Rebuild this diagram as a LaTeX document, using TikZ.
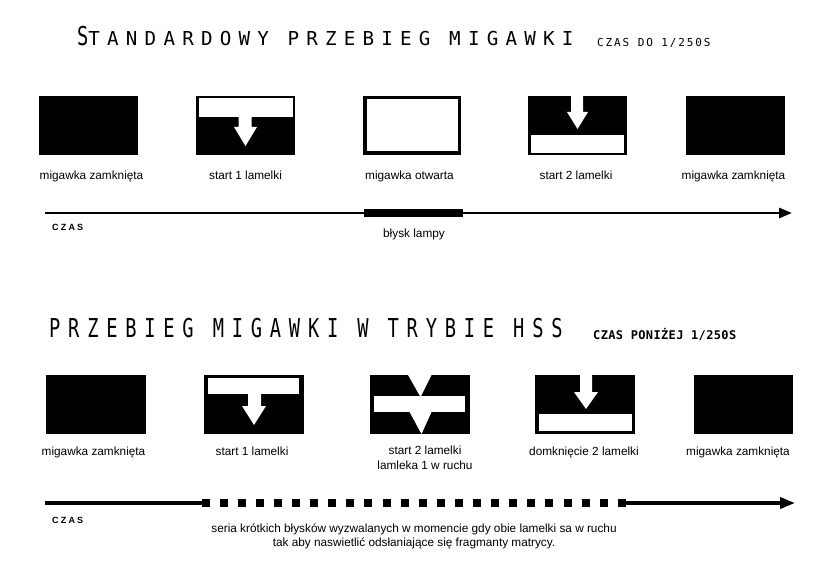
\documentclass[tikz,border=0pt]{standalone}
\usepackage{fontspec}
\setmainfont{Liberation Sans}
\newfontfamily\titlefont{DejaVu Sans Mono}
\newfontfamily\titlecond[FakeStretch=0.72]{DejaVu Sans Mono}
\usetikzlibrary{arrows.meta}
\tikzset{
  blk/.style={fill=black, draw=none, inner sep=0pt, minimum width=99pt, minimum height=59pt},
  openbox/.style={fill=white, draw=black, line width=3.5pt, inner sep=0pt, minimum width=94.5pt, minimum height=55.5pt},
  wht/.style={fill=white, draw=none},
  lbl/.style={font=\fontsize{11.8}{14.5}\selectfont, inner sep=0pt, anchor=base, align=center},
  czas/.style={font=\fontsize{9}{9}\selectfont\bfseries\addfontfeature{LetterSpace=24}, inner sep=0pt, anchor=base west},
  ttl/.style={inner sep=0pt, anchor=base west},
}
\begin{document}
\begin{tikzpicture}[x=1pt, y=-1pt]
\useasboundingbox (0,0) rectangle (818,585);
\fill[white] (0,0) rectangle (818,585);

% ---------- titles ----------
\node[ttl] (title1) at (77,46) {\titlecond\fontsize{26}{26}\selectfont\addfontfeature{LetterSpace=18}S\titlefont\fontsize{19.2}{19.2}\selectfont\addfontfeature{LetterSpace=37.5}TANDARDOWY PRZEBIEG MIGAWKI};
\node[ttl] (sub1) at (597,47) {\titlefont\fontsize{11}{11}\selectfont\addfontfeature{LetterSpace=17}CZAS DO 1/250S};

\node[ttl] (title2) at (49,337) {\titlecond\fontsize{26}{26}\selectfont\addfontfeature{LetterSpace=29.9}PRZEBIEG MIGAWKI W TRYBIE HSS};
\node[ttl] (sub2) at (593,339) {\titlefont\bfseries\fontsize{12}{12}\selectfont\addfontfeature{LetterSpace=3}CZAS PONIŻEJ 1/250S};

% ---------- row 1 boxes ----------
\node[blk] (a1) at (88.5,125.5) {};
\node[blk] (a2) at (245.5,125.5) {};
\node[openbox] (a3) at (412,125.5) {};
\node[blk] (a4) at (577.5,125.5) {};
\node[blk] (a5) at (735.5,125.5) {};

\fill[wht] (199,98) rectangle (293,117);
\fill[wht] (238.5,116) -- (251.5,116) -- (251.5,127) -- (257,127) -- (245.5,146) -- (234,127) -- (238.5,127) -- cycle;

\fill[wht] (531,135) rectangle (624,153);
\fill[wht] (571,96) -- (583,96) -- (583,112) -- (588,112) -- (577.5,129) -- (567,112) -- (571,112) -- cycle;

% ---------- row 1 labels ----------
\node[lbl] (la1) at (91.5,180) {migawka zamknięta};
\node[lbl] (la2) at (245.5,180) {start 1 lamelki};
\node[lbl] (la3) at (409.5,180) {migawka otwarta};
\node[lbl] (la4) at (576,180) {start 2 lamelki};
\node[lbl] (la5) at (733.5,180) {migawka zamknięta};

% ---------- row 1 timeline ----------
\coordinate (t1s) at (45,213);
\coordinate (t1e) at (792,213);
\draw[line width=2.7pt, -{Triangle[length=13pt,width=10pt]}] (t1s) -- (t1e);
\node[fill=black, inner sep=0pt, minimum width=99pt, minimum height=8pt] (flash) at (413.5,212.7) {};
\node[czas] (cz1) at (52,230.5) {CZAS};
\node[lbl] (fl) at (414,237) {błysk lampy};

% ---------- row 2 boxes ----------
\node[blk, minimum width=100pt] (b1) at (96,404.5) {};
\node[blk, minimum width=100pt] (b2) at (254,404.5) {};
\node[blk, minimum width=100pt] (b3) at (420,404.5) {};
\node[blk, minimum width=100pt] (b4) at (585,404.5) {};
\node[blk] (b5) at (743.5,404.5) {};

\fill[wht] (208,378) rectangle (299,394);
\fill[wht] (248,393) -- (261,393) -- (261,406) -- (266,406) -- (254,425) -- (242,406) -- (248,406) -- cycle;

\fill[wht] (374,396) rectangle (465,412);
\fill[wht] (408,375) -- (431.5,375) -- (420.5,397) -- cycle;
\fill[wht] (409,411) -- (432,411) -- (421.5,434) -- cycle;

\fill[wht] (539,414) rectangle (632,431);
\fill[wht] (580,375) -- (592,375) -- (592,392) -- (598,392) -- (586,409) -- (574,392) -- (580,392) -- cycle;

% ---------- row 2 labels ----------
\node[lbl] (lb1) at (93.5,455) {migawka zamknięta};
\node[lbl] (lb2) at (252,455) {start 1 lamelki};
\node[lbl] (lb3) at (425,469) {start 2 lamelki\\lamleka 1 w ruchu};
\node[lbl] (lb4) at (584,455) {domknięcie 2 lamelki};
\node[lbl] (lb5) at (738,455) {migawka zamknięta};

% ---------- row 2 timeline ----------
\coordinate (t2s) at (45,503);
\coordinate (d1) at (201.5,503);
\coordinate (d2) at (626,503);
\coordinate (t2e) at (795,503);
\draw[line width=3.5pt] (t2s) -- (d1);
\draw[line width=8pt, dash pattern=on 8pt off 10.1pt] (d1) -- (d2);
\draw[line width=3.5pt, -{Triangle[length=15pt,width=11pt]}] (d2) ++(-4,0) -- (t2e);
\node[czas] (cz2) at (52,523.3) {CZAS};
\node[lbl] (ser) at (414,546.5) {seria krótkich błysków wyzwalanych w momencie gdy obie lamelki sa w ruchu\\tak aby naswietlić odsłaniające się fragmanty matrycy.};
\end{tikzpicture}
\end{document}
